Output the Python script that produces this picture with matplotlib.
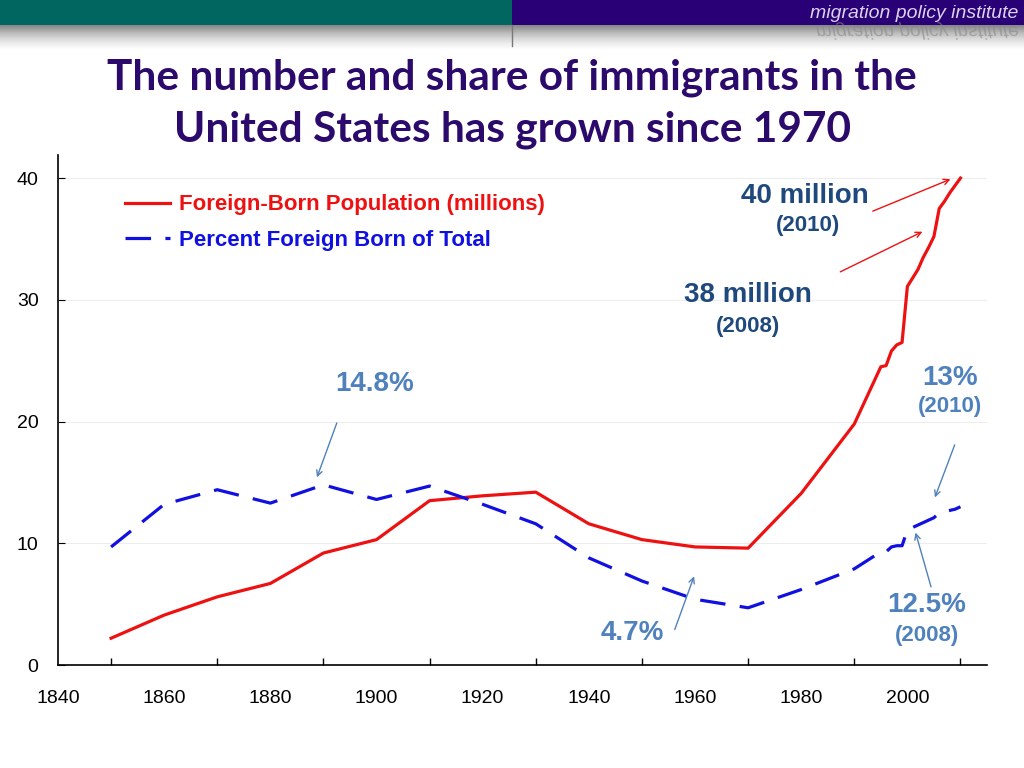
import numpy as np
import matplotlib
matplotlib.use("Agg")
import matplotlib.pyplot as plt
from matplotlib.patches import Rectangle, PathPatch
from matplotlib.textpath import TextPath
from matplotlib.font_manager import FontProperties
from matplotlib.transforms import Affine2D

# data
years_pop = [1850, 1860, 1870, 1880, 1890, 1900, 1910, 1920, 1930, 1940, 1950, 1960, 1970,
             1980, 1990, 1995, 1996, 1997, 1998, 1999, 2000, 2001, 2002, 2003, 2004, 2005,
             2006, 2007, 2008, 2009, 2010]
foreign_born = [2.2, 4.1, 5.6, 6.7, 9.2, 10.3, 13.5, 13.9, 14.2, 11.6, 10.3, 9.7, 9.6,
                14.1, 19.8, 24.5, 24.6, 25.8, 26.3, 26.5, 31.1, 31.8, 32.5, 33.5, 34.3, 35.2,
                37.5, 38.1, 38.8, 39.4, 40.0]
pct_foreign = [9.7, 13.2, 14.4, 13.3, 14.8, 13.6, 14.7, 13.2, 11.6, 8.8, 6.9, 5.4, 4.7,
               6.2, 7.9, 9.3, 9.3, 9.7, 9.8, 9.8, 11.1, 11.3, 11.5, 11.7, 11.9, 12.1,
               12.5, 12.6, 12.7, 12.8, 13.0]
x_ticks = [1840, 1860, 1880, 1900, 1920, 1940, 1960, 1980, 2000]
y_ticks = [0, 10, 20, 30, 40]

W, H = 1024, 768
fig = plt.figure(figsize=(10.24, 7.68), dpi=100)
fig.patch.set_facecolor('white')

# background / header in pixel coords
bg = fig.add_axes([0, 0, 1, 1], zorder=0)
bg.set_xlim(0, W)
bg.set_ylim(H, 0)
bg.axis('off')
bg.add_patch(Rectangle((0, 0), 512, 25, color='#00665F', lw=0))
bg.add_patch(Rectangle((512, 0), 512, 25, color='#2A0076', lw=0))
grad = np.linspace(0, 1, 50).reshape(-1, 1)
grad = np.repeat(grad, 2, axis=1)
bg.imshow(grad, cmap='Greys_r', vmin=-0.8, vmax=1.0, extent=(0, W, 50, 25),
          aspect='auto', interpolation='bilinear', zorder=1)
bg.plot([512, 512], [25, 46], color='#777777', lw=1, zorder=2)
bg.text(1018, 13, 'migration policy institute', ha='right', va='center',
        fontsize=14, style='italic', color='#D9D4EC', family='Liberation Sans', zorder=3)
# reflection
fp = FontProperties(family='Liberation Sans', style='italic')
tp = TextPath((0, 0), 'migration policy institute', size=19, prop=fp)
ext = tp.get_extents()
tr = Affine2D().translate(-ext.x1, 0).translate(1018, 26)
bg.add_patch(PathPatch(tr.transform_path(tp), color='#8A8A8A', lw=0, alpha=0.6, zorder=3))

bg.text(512, 78, 'The number and share of immigrants in the', ha='center', va='center',
        fontsize=30.5, fontweight='bold', color='#2B0A6C', family='Lato')
bg.text(512, 130, 'United States has grown since 1970', ha='center', va='center',
        fontsize=30.5, fontweight='bold', color='#2B0A6C', family='Lato')

# main chart
ax = fig.add_axes([58 / W, 1 - 665 / H, (987 - 58) / W, (665 - 155) / H], zorder=2)
ax.patch.set_alpha(0)
ax.set_xlim(1840, 2015)
ax.set_ylim(0, 41.9)
for y in y_ticks[1:]:
    ax.axhline(y, color='#EDEDED', lw=0.8, zorder=0)

ax.plot(years_pop, foreign_born, color='#EE1111', lw=2.3, solid_joinstyle='round',
        label='Foreign-Born Population (millions)')
ax.plot(years_pop, pct_foreign, color='#1010E0', lw=2.3, dashes=(8, 4.5),
        label='Percent Foreign Born of Total')

ax.set_xticks(x_ticks)
ax.set_xticks(range(1850, 2011, 10), minor=True)
ax.set_yticks(y_ticks)
ax.tick_params(axis='x', which='major', direction='in', length=0, labelsize=14, pad=18)
ax.tick_params(axis='x', which='minor', direction='in', length=5, width=1)
ax.tick_params(axis='y', direction='in', length=5, labelsize=14, pad=14)
for lab in ax.get_xticklabels() + ax.get_yticklabels():
    lab.set_family('Liberation Sans')
ax.spines['top'].set_visible(False)
ax.spines['right'].set_visible(False)
ax.spines['left'].set_linewidth(1.2)
ax.spines['bottom'].set_linewidth(1.2)

leg = ax.legend(loc='upper left', bbox_to_anchor=(0.051, 0.962), frameon=False,
                prop={'family': 'Liberation Sans', 'weight': 'bold', 'size': 16},
                handlelength=2.0, handletextpad=0.4, labelspacing=0.65)
for txt, c in zip(leg.get_texts(), ['#EE1111', '#1010E0']):
    txt.set_color(c)

dark = '#1F497D'
light = '#4F81BD'
big = 20
small = 16
ax.text(1980.7, 38.5, '40 million', ha='center', va='center', fontsize=big,
        fontweight='bold', color=dark, family='Liberation Sans')
ax.text(1981.3, 36.1, '(2010)', ha='center', va='center', fontsize=small,
        fontweight='bold', color=dark, family='Liberation Sans')
ax.text(1970.0, 30.4, '38 million', ha='center', va='center', fontsize=big,
        fontweight='bold', color=dark, family='Liberation Sans')
ax.text(1970.0, 27.8, '(2008)', ha='center', va='center', fontsize=small,
        fontweight='bold', color=dark, family='Liberation Sans')
ax.annotate('', xy=(2008.6, 40.0), xytext=(1993.0, 37.2),
            arrowprops=dict(arrowstyle='->', color='#EE1111', lw=1))
ax.annotate('', xy=(2003.3, 35.7), xytext=(1986.9, 32.2),
            arrowprops=dict(arrowstyle='->', color='#EE1111', lw=1))

ax.text(1899.7, 23.1, '14.8%', ha='center', va='center', fontsize=big,
        fontweight='bold', color=light, family='Liberation Sans')
ax.annotate('', xy=(1888.6, 15.2), xytext=(1892.7, 20.1),
            arrowprops=dict(arrowstyle='->', color=light, lw=1))
ax.text(1948.1, 2.6, '4.7%', ha='center', va='center', fontsize=big,
        fontweight='bold', color=light, family='Liberation Sans')
ax.annotate('', xy=(1960.0, 7.5), xytext=(1956.0, 2.7),
            arrowprops=dict(arrowstyle='->', color=light, lw=1))
ax.text(2008.0, 23.6, '13%', ha='center', va='center', fontsize=big,
        fontweight='bold', color=light, family='Liberation Sans')
ax.text(2008.0, 21.2, '(2010)', ha='center', va='center', fontsize=small,
        fontweight='bold', color=light, family='Liberation Sans')
ax.annotate('', xy=(2005.0, 13.55), xytext=(2009.1, 18.3),
            arrowprops=dict(arrowstyle='->', color=light, lw=1))
ax.text(2003.7, 4.9, '12.5%', ha='center', va='center', fontsize=big,
        fontweight='bold', color=light, family='Liberation Sans')
ax.text(2003.7, 2.4, '(2008)', ha='center', va='center', fontsize=small,
        fontweight='bold', color=light, family='Liberation Sans')
ax.annotate('', xy=(2001.4, 11.1), xytext=(2004.6, 6.2),
            arrowprops=dict(arrowstyle='->', color=light, lw=1))

fig.savefig('out.png', dpi=100)
